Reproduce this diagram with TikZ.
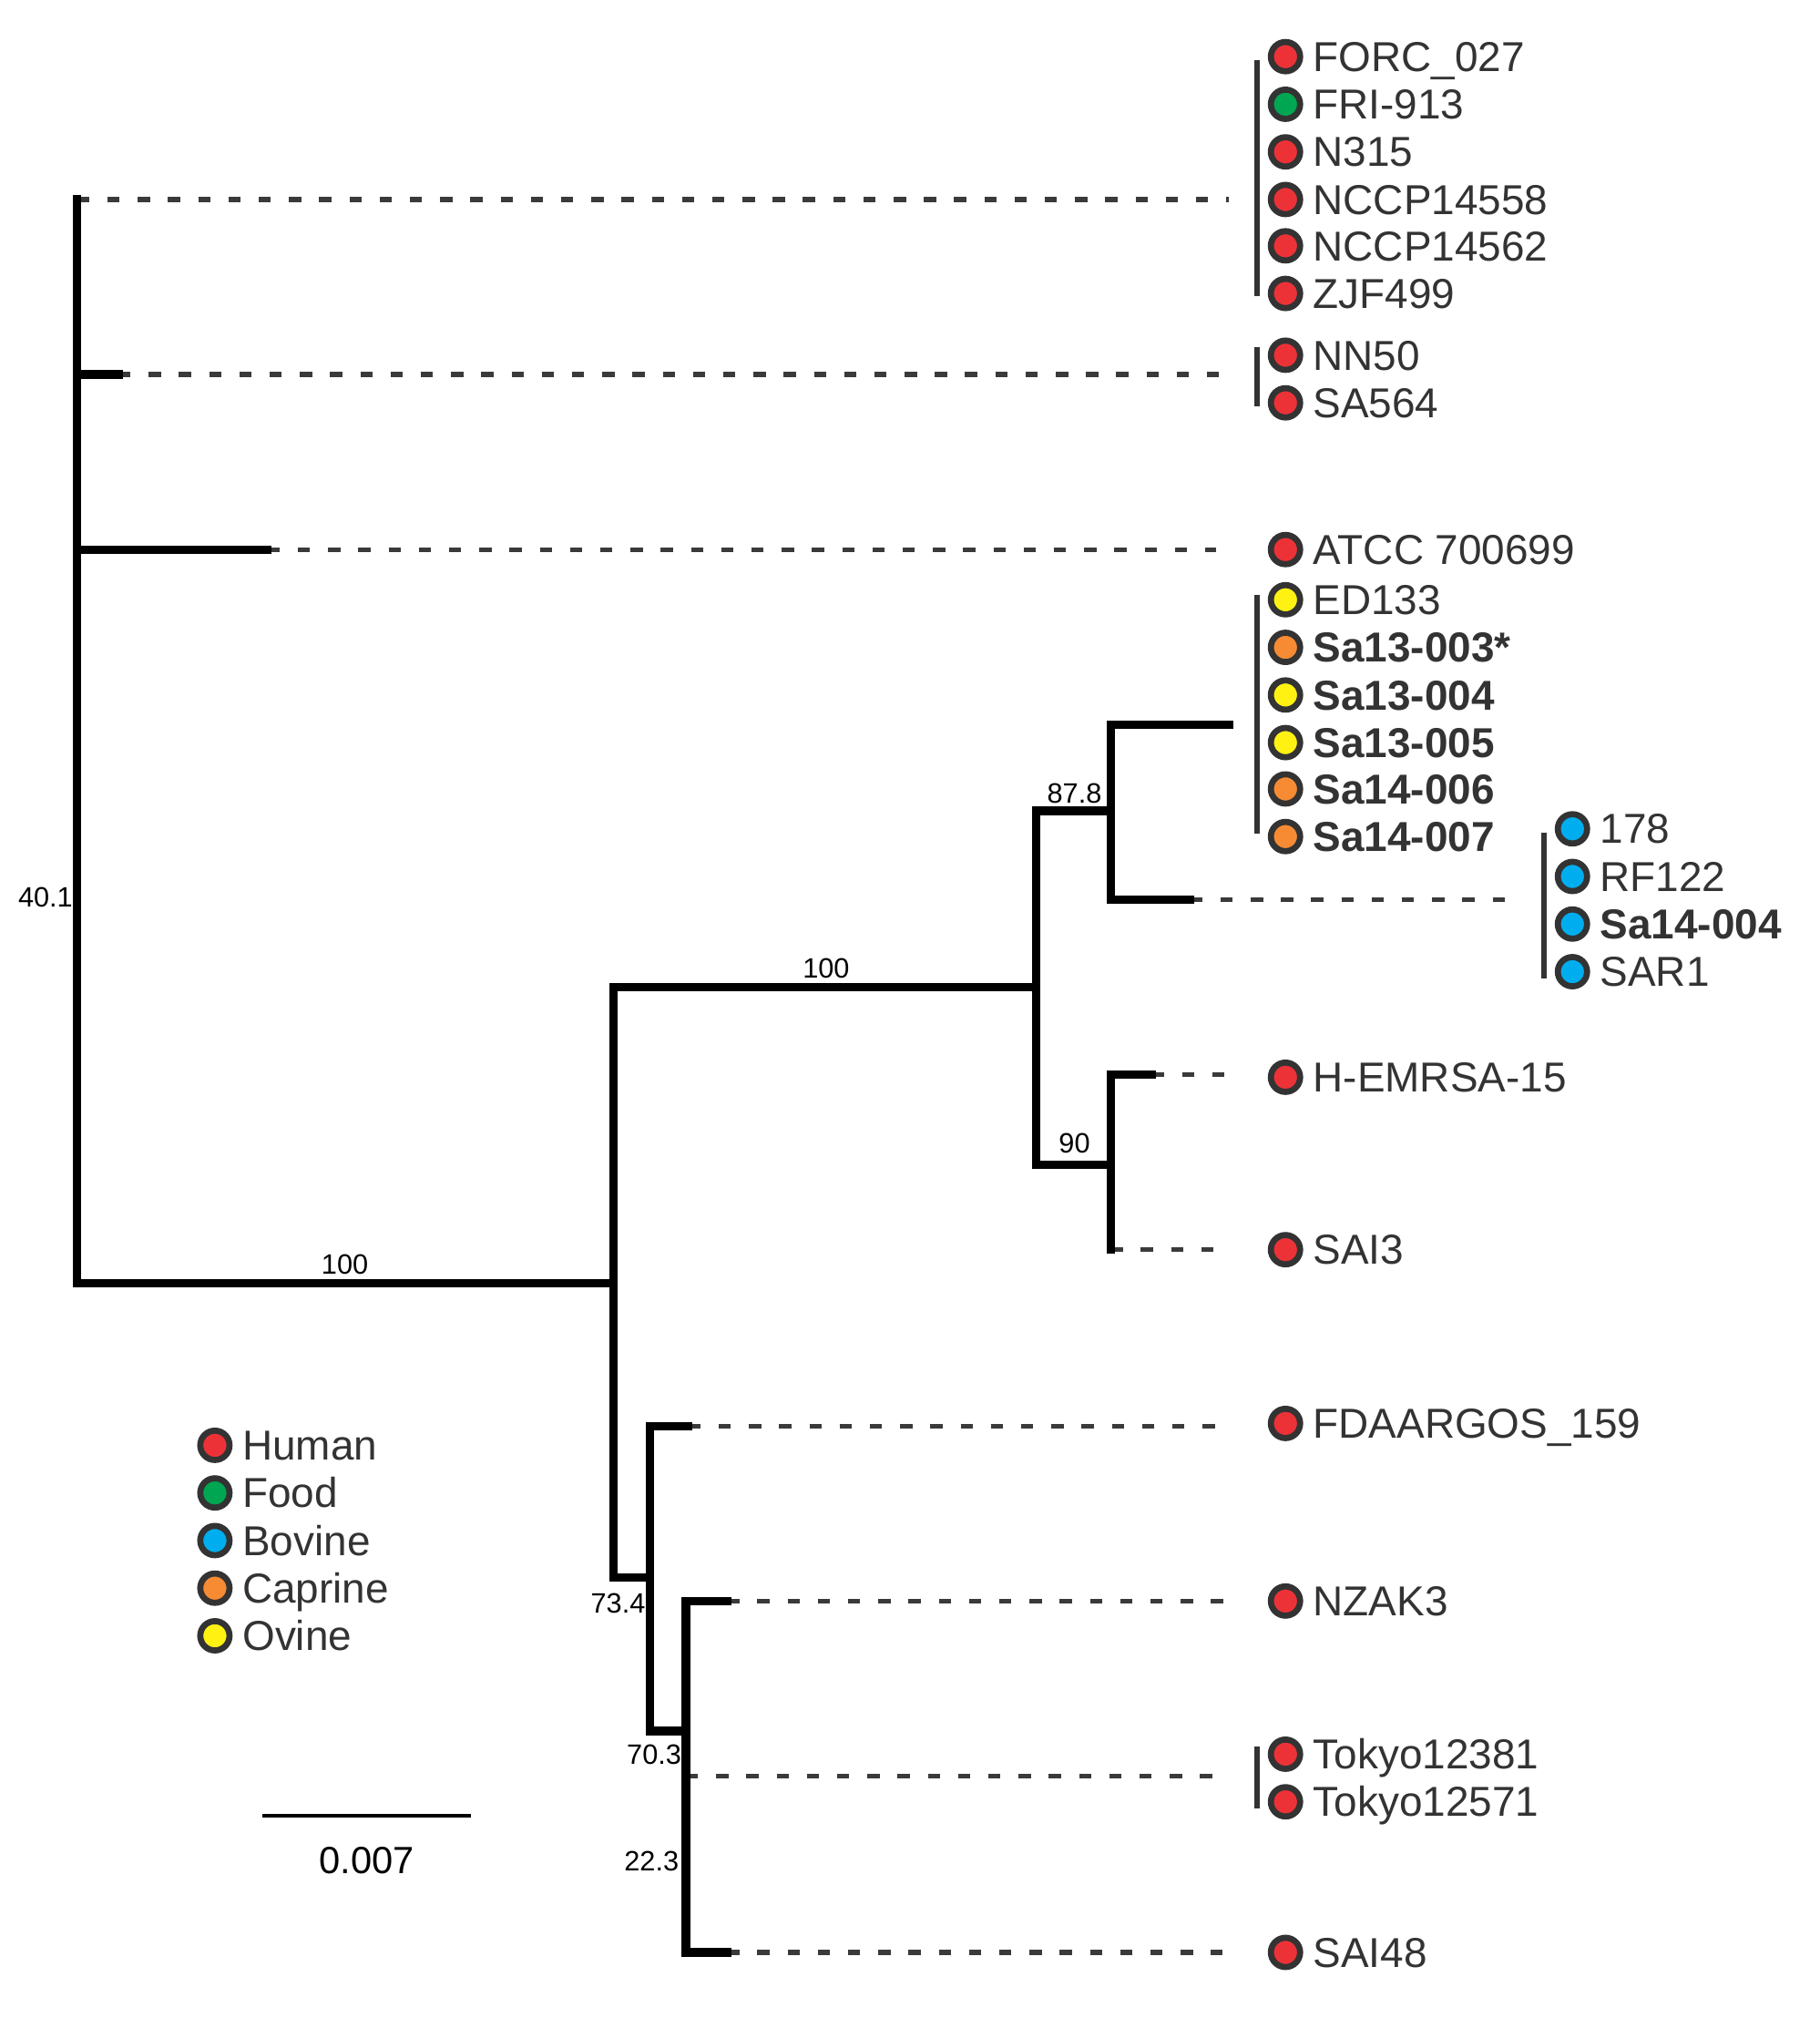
\documentclass[tikz,border=0pt]{standalone}
\usepackage{fontspec}
\setmainfont{Liberation Sans}
\definecolor{human}{HTML}{ED3237}
\definecolor{food}{HTML}{00A651}
\definecolor{bovine}{HTML}{00AEEF}
\definecolor{caprine}{HTML}{F68B33}
\definecolor{ovine}{HTML}{FFF212}
\definecolor{ink}{HTML}{333333}
\definecolor{dashc}{HTML}{3A3A3A}
\newcommand{\leafnode}[5]{%
  \node[dot,fill=#4] (d#1) at (#2,#3) {};
  \node[lab] (t#1) at (#2+21,#3+11.5) {#5};}
\begin{document}
\begin{tikzpicture}[x=0.4pt,y=-0.4pt,
  tree/.style={line width=2.6pt,black,line cap=rect,line join=miter},
  dsh/.style={line width=1.5pt,dashc,dash pattern=on 3.8pt off 5.6pt},
  brk/.style={line width=1.7pt,ink},
  dot/.style={circle,draw=ink,line width=1.9pt,minimum size=9.1pt,inner sep=0pt},
  lab/.style={anchor=base west,inner sep=0pt,text=ink,font=\fontsize{13}{15}\selectfont},
  blab/.style={inner sep=0pt,text=black,font=\fontsize{8.7}{10}\selectfont}]
\useasboundingbox (0,0) rectangle (1414,1568);
% internal nodes
\coordinate (R) at (60,576);
\coordinate (A) at (477,997);
\coordinate (B) at (805,767);
\coordinate (C) at (863,630);
\coordinate (D) at (863,905);
\coordinate (E) at (505,1226);
\coordinate (F) at (533,1345);
% branch ends
\coordinate (b1) at (60,155);
\coordinate (b2) at (92,291);
\coordinate (b3) at (208,427);
\coordinate (c1) at (955,563);
\coordinate (c2) at (925,699);
\coordinate (d1) at (895,835);
\coordinate (d2) at (863,971);
\coordinate (e1) at (535,1108);
\coordinate (f1) at (565,1244);
\coordinate (f2) at (533,1380);
\coordinate (f3) at (565,1517);
% dashed ends
\coordinate (b1e) at (955,155);
\coordinate (b2e) at (955,291);
\coordinate (b3e) at (945,427);
\coordinate (c2e) at (1180,699);
\coordinate (d1e) at (955,835);
\coordinate (d2e) at (945,971);
\coordinate (e1e) at (950,1108);
\coordinate (f1e) at (955,1244);
\coordinate (f2e) at (945,1380);
\coordinate (f3e) at (950,1517);
% dashed
\foreach \s in {b1,b2,b3,c2,d1,d2,e1,f1,f2,f3}{\draw[dsh] (\s) -- (\s e);}
% tree
\draw[tree] (R) |- (b1);
\draw[tree] (R) |- (b2);
\draw[tree] (R) |- (b3);
\draw[tree] (R) |- (A);
\draw[tree] (A) |- (B);
\draw[tree] (A) |- (E);
\draw[tree] (B) |- (C);
\draw[tree] (B) |- (D);
\draw[tree] (C) |- (c1);
\draw[tree] (C) |- (c2);
\draw[tree] (D) |- (d1);
\draw[tree] (D) |- (d2);
\draw[tree] (E) |- (e1);
\draw[tree] (E) |- (F);
\draw[tree] (F) |- (f1);
\draw[tree] (F) |- (f2);
\draw[tree] (F) |- (f3);
% support values
\node[blab,anchor=base] (s1) at (268,990) {100};
\node[blab,anchor=base] (s2) at (642,760) {100};
\node[blab,anchor=base] (s3) at (835,624) {87.8};
\node[blab,anchor=base] (s4) at (835,896) {90};
\node[blab,anchor=base east] (s5) at (502,1253) {73.4};
\node[blab,anchor=base east] (s6) at (530,1371) {70.3};
\node[blab,anchor=base east] (s7) at (528,1454) {22.3};
\node[blab,anchor=base east] (s8) at (57,705) {40.1};
% brackets
\coordinate (k1a) at (977,47);   \coordinate (k1b) at (977,230);
\coordinate (k2a) at (977,270);  \coordinate (k2b) at (977,316);
\coordinate (k3a) at (977,462);  \coordinate (k3b) at (977,648);
\coordinate (k4a) at (1200,647); \coordinate (k4b) at (1200,760);
\coordinate (k5a) at (977,1357); \coordinate (k5b) at (977,1405);
\foreach \k in {k1,k2,k3,k4,k5}{\draw[brk] (\k a) -- (\k b);}
% leaves
\leafnode{forc}{999}{44}{human}{FORC\_027}
\leafnode{fri}{999}{81}{food}{FRI-913}
\leafnode{n315}{999}{118}{human}{N315}
\leafnode{nccpa}{999}{155}{human}{NCCP14558}
\leafnode{nccpb}{999}{191}{human}{NCCP14562}
\leafnode{zjf}{999}{228}{human}{ZJF499}
\leafnode{nn}{999}{276}{human}{NN50}
\leafnode{sa564}{999}{313}{human}{SA564}
\leafnode{atcc}{999}{427}{human}{ATCC 700699}
\leafnode{ed}{999}{466}{ovine}{ED133}
\leafnode{sa3}{999}{503}{caprine}{\bfseries Sa13-003*}
\leafnode{sa4}{999}{540}{ovine}{\bfseries Sa13-004}
\leafnode{sa5}{999}{577}{ovine}{\bfseries Sa13-005}
\leafnode{sa6}{999}{613}{caprine}{\bfseries Sa14-006}
\leafnode{sa7}{999}{650}{caprine}{\bfseries Sa14-007}
\leafnode{b178}{1222}{644}{bovine}{178}
\leafnode{rf}{1222}{681}{bovine}{RF122}
\leafnode{sab}{1222}{718}{bovine}{\bfseries Sa14-004}
\leafnode{sar}{1222}{755}{bovine}{SAR1}
\leafnode{hem}{999}{837}{human}{H-EMRSA-15}
\leafnode{sai3}{999}{971}{human}{SAI3}
\leafnode{fda}{999}{1106}{human}{FDAARGOS\_159}
\leafnode{nzak}{999}{1244}{human}{NZAK3}
\leafnode{toka}{999}{1363}{human}{Tokyo12381}
\leafnode{tokb}{999}{1400}{human}{Tokyo12571}
\leafnode{sai48}{999}{1517}{human}{SAI48}
% legend
\leafnode{lh}{167}{1123}{human}{Human}
\leafnode{lf}{167}{1160}{food}{Food}
\leafnode{lb}{167}{1197}{bovine}{Bovine}
\leafnode{lc}{167}{1234}{caprine}{Caprine}
\leafnode{lo}{167}{1271}{ovine}{Ovine}
% scale bar
\coordinate (sbl) at (204,1411);
\coordinate (sbr) at (366,1411);
\draw[line width=1.1pt,black] (sbl) -- (sbr);
\node[inner sep=0pt,anchor=base,font=\fontsize{11.8}{14}\selectfont] (sbt) at (285,1456) {0.007};
\end{tikzpicture}
\end{document}
